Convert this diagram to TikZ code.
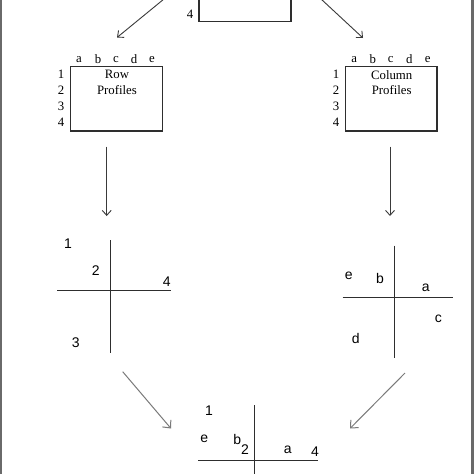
\documentclass[tikz,border=0pt]{standalone}
\usepackage{fontspec}
\setmainfont{Liberation Serif}
\newfontfamily\lblfont{Liberation Sans}
\usetikzlibrary{arrows.meta}
\definecolor{ink}{HTML}{2E2E2E}
\definecolor{arrowdark}{HTML}{3A3A3A}
\definecolor{arrowgray}{HTML}{7A7A7A}
\definecolor{edgegray}{HTML}{6A6A6A}
\tikzset{
  profbox/.style={draw=ink, line width=1.1pt, minimum width=91.6pt, minimum height=64.3pt, inner sep=0pt},
  boxtxt/.style={font=\fontsize{12.8}{15.6}\selectfont, text=black, inner sep=0pt, align=center},
  axisline/.style={draw=ink, line width=0.9pt},
  pt/.style={font=\lblfont\fontsize{14}{14}\selectfont, text=black, inner sep=0pt},
  toparrow/.style={draw=arrowdark, line width=0.9pt, -{Straight Barb[length=5pt,width=9pt]}},
  botarrow/.style={draw=arrowgray, line width=1pt, -{Straight Barb[length=6pt,width=11pt]}},
}
\begin{document}
\begin{tikzpicture}[x=1pt,y=-1pt]
\useasboundingbox (0,0) rectangle (474,474);
\fill[white] (0,0) rectangle (474,474);
\begin{scope}
\clip (0,0) rectangle (474,474);
% top box (cut off by the top edge)
\node[draw=ink, line width=1.1pt, minimum width=92pt, minimum height=60pt, inner sep=0pt] (top) at (245,-8.3) {};
\node[boxtxt] (t4) at (190,14) {4};
% frame bars
\fill[edgegray] (0,0) rectangle (2.2,474);
\fill[edgegray] (470.8,0) rectangle (474,474);

% row profiles
\node[profbox] (rowbox) at (116.5,98.85) {};
\node[boxtxt] (rowtxt) at (117,82.5) {Row\\Profiles};
\foreach \l/\x in {a/79,b/98,c/116,d/134,e/152}
  \node[boxtxt] (rl\l) at (\x,59.3) {\l};
\foreach \n/\y in {1/74.7,2/90.3,3/106.7,4/122.7}
  \node[boxtxt] (rn\n) at (61,\y) {\n};

% column profiles
\node[profbox] (colbox) at (391.2,98.85) {};
\node[boxtxt] (coltxt) at (391.7,82.5) {Column\\Profiles};
\foreach \l/\x in {a/354.3,b/372.7,c/390.7,d/409.3,e/427.7}
  \node[boxtxt] (cl\l) at (\x,59.3) {\l};
\foreach \n/\y in {1/74.7,2/90.3,3/106.7,4/122.7}
  \node[boxtxt] (cn\n) at (336,\y) {\n};

% arrow end points
\coordinate (ta1) at (164,-1);
\coordinate (ta2) at (117,37.5);
\coordinate (tb1) at (321,-1);
\coordinate (tb2) at (363,38);
\coordinate (da1) at (106.7,146.7);
\coordinate (da2) at (106.7,216);
\coordinate (db1) at (390,146.7);
\coordinate (db2) at (390,216);
\coordinate (ba1) at (122.7,371.7);
\coordinate (ba2) at (171,428.5);
\coordinate (bb1) at (405,373);
\coordinate (bb2) at (350,428.5);

\draw[toparrow] (ta1) -- (ta2);
\draw[toparrow] (tb1) -- (tb2);
\draw[toparrow] (da1) -- (da2);
\draw[toparrow] (db1) -- (db2);
\draw[botarrow] (ba1) -- (ba2);
\draw[botarrow] (bb1) -- (bb2);

% row map
\draw[axisline] (110,240) -- (110,353.3);
\draw[axisline] (57.3,290) -- (170.7,290);
\node[pt] (r1) at (68,244) {1};
\node[pt] (r2) at (95.7,270.7) {2};
\node[pt] (r4) at (166.7,282) {4};
\node[pt] (r3) at (75.7,342.7) {3};

% column map
\draw[axisline] (394.3,245.7) -- (394.3,358);
\draw[axisline] (342.7,297.7) -- (453.3,297.7);
\node[pt] (ce) at (348.7,276) {e};
\node[pt] (cb) at (380,278.3) {b};
\node[pt] (ca) at (425.7,287.3) {a};
\node[pt] (cc) at (438.3,319) {c};
\node[pt] (cd) at (355.7,338.3) {d};

% joint map
\draw[axisline] (254,405) -- (254,476);
\draw[axisline] (198.3,460) -- (318.3,460);
\node[pt] (j1) at (209,410.7) {1};
\node[pt] (je) at (204.3,438.3) {e};
\node[pt] (jb) at (237.3,439.3) {b};
\node[pt] (j2) at (245,449.3) {2};
\node[pt] (ja) at (287.7,450) {a};
\node[pt] (j4) at (315,451.7) {4};
\end{scope}
\end{tikzpicture}
\end{document}
